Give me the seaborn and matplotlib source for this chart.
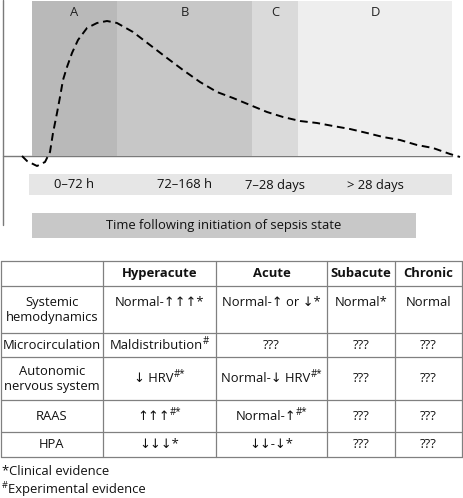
import pandas as pd
import seaborn as sns
import matplotlib.pyplot as plt

# phases of the schematic (positions in picture units along the time axis)
phase_names = ['A', 'B', 'C', 'D']
phase_start = [32, 117, 252, 298]
phase_end = [117, 252, 298, 452]
phase_colors = ['#b9b9b9', '#c7c7c7', '#dadada', '#eeeeee']
phase_times = ['0\u201372 h', '72\u2013168 h', '7\u201328 days', '> 28 days']

# dashed response curve (baseline = 0)
curve_x = [22, 27, 37, 45, 50, 53, 57, 60, 63, 67, 72, 78, 87, 97, 107, 117,
           133, 150, 167, 183, 200, 217, 233, 250, 267, 283, 300, 317, 333,
           350, 367, 383, 400, 417, 433, 450, 460]
curve_y = [0, -5, -10, -6, 4, 23, 43, 59, 76, 89, 103, 116, 128, 133, 135, 133,
           124, 111, 98, 86, 74, 64, 58, 51, 44, 39, 35, 33, 30,
           27, 23, 19, 16, 11, 8, 2, -1]

# table
col_heads = ['', 'Hyperacute', 'Acute', 'Subacute', 'Chronic']
row_labels = ['Systemic\nhemodynamics', 'Microcirculation', 'Autonomic\nnervous system', 'RAAS', 'HPA']
cells = [
    [('Normal-\u2191\u2191\u2191*', ''), ('Normal-\u2191 or \u2193*', ''), ('Normal*', ''), ('Normal', '')],
    [('Maldistribution', '#'), ('???', ''), ('???', ''), ('???', '')],
    [('\u2193 HRV', '#*'), ('Normal-\u2193 HRV', '#*'), ('???', ''), ('???', '')],
    [('\u2191\u2191\u2191', '#*'), ('Normal-\u2191', '#*'), ('???', ''), ('???', '')],
    [('\u2193\u2193\u2193*', ''), ('\u2193\u2193-\u2193*', ''), ('???', ''), ('???', '')],
]
footnotes = [('', '*Clinical evidence'), ('#', 'Experimental evidence')]

sns.set_theme(style='white')
plt.rcParams['font.family'] = ['Open Sans', 'DejaVu Sans']
FS = 9.4
SUP = 0.75

W, H = 464, 498
fig = plt.figure(figsize=(W / 100, H / 100), dpi=100)

# ---------------- top schematic ----------------
top_h = 240
ax = fig.add_axes([0, 1 - top_h / H, 1, top_h / H])
ax.set_xlim(0, W)
ax.set_ylim(156 - top_h, 156)
ax.axis('off')

ax.plot([3, 452], [0, 0], color='#7a7a7a', lw=1, zorder=1)
ax.plot([3, 3], [156, -69], color='#7a7a7a', lw=1, zorder=1)

for name, x0, x1, c, t in zip(phase_names, phase_start, phase_end, phase_colors, phase_times):
    ax.bar(x0, 155, width=x1 - x0, bottom=0, align='edge', color=c, lw=0, zorder=2)
    ax.text((x0 + x1) / 2, 143, name, ha='center', va='center', fontsize=FS, color='#222222', zorder=4)
    ax.text((x0 + x1) / 2, -29, t, ha='center', va='center', fontsize=FS, color='#111111', zorder=4)

ax.bar(29, -21, width=452 - 29, bottom=-18, align='edge', color='#e6e6e6', lw=0, zorder=2)
ax.bar(32, -25, width=416 - 32, bottom=-57, align='edge', color='#c8c8c8', lw=0, zorder=2)
ax.text(224, -69.5, 'Time following initiation of sepsis state', ha='center', va='center',
        fontsize=FS, color='#111111', zorder=4)

df = pd.DataFrame({'x': curve_x, 'y': curve_y})
sns.lineplot(data=df, x='x', y='y', ax=ax, sort=False, estimator=None, color='black',
             lw=1.4, linestyle=(0, (4, 2.4)), zorder=3)
ax.set_xlabel('')
ax.set_ylabel('')

# ---------------- table ----------------
tab_top = 250
tax = fig.add_axes([0, 0, 1, (H - tab_top) / H])
tax.set_xlim(0, W)
tax.set_ylim(H, tab_top)
tax.axis('off')

row_edges = [261, 286, 333, 357, 400, 432, 457]
col_edges = [1, 103, 216, 327, 395, 462]
lc = '#808080'
for yv in row_edges:
    tax.plot([col_edges[0], col_edges[-1]], [yv, yv], color=lc, lw=0.9)
for xv in col_edges:
    tax.plot([xv, xv], [row_edges[0], row_edges[-1]], color=lc, lw=0.9)

renderer = fig.canvas.get_renderer()


def sup_text(x, y, base, sup, ha='center'):
    t1 = tax.text(x, y, base, ha='left', va='center', fontsize=FS, color='#111111')
    w1 = t1.get_window_extent(renderer).width if base else 0
    w2 = 0
    t2 = None
    if sup:
        t2 = tax.text(x, y - 4, sup, ha='left', va='center', fontsize=FS * SUP, color='#111111')
        w2 = t2.get_window_extent(renderer).width
    left = x - (w1 + w2) / 2 if ha == 'center' else x
    t1.set_x(left)
    if t2 is not None:
        t2.set_x(left + w1)


def centers(edges):
    return [(a + b) / 2 for a, b in zip(edges[:-1], edges[1:])]


cx = centers(col_edges)
cy = centers(row_edges)

for j, h in enumerate(col_heads):
    tax.text(cx[j], cy[0], h, ha='center', va='center', fontsize=FS, fontweight='bold', color='#111111')

for i, lab in enumerate(row_labels):
    y = cy[i + 1]
    tax.text(cx[0], y, lab, ha='center', va='center', fontsize=FS, color='#111111', linespacing=1.2)
    vy = y - 7 if i == 0 else y
    for j, (base, sup) in enumerate(cells[i]):
        sup_text(cx[j + 1], vy, base, sup)

sup_text(2, 471.5, footnotes[0][1], '', ha='left')
tx = tax.text(2, 485.5, footnotes[1][0], ha='left', va='center', fontsize=FS * 0.7, color='#111111')
w = tx.get_window_extent(renderer).width
tax.text(2 + w, 489, footnotes[1][1], ha='left', va='center', fontsize=FS, color='#111111')

fig.savefig('out.png', dpi=100)
